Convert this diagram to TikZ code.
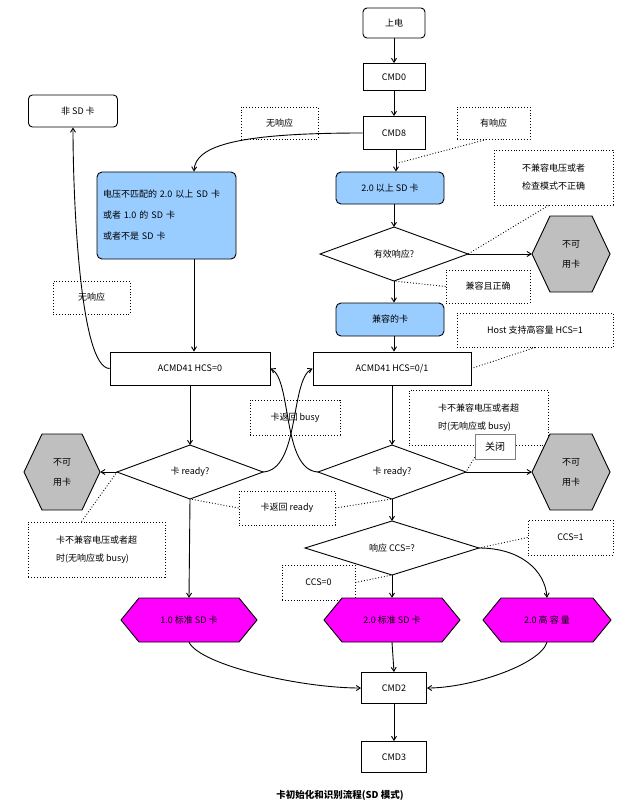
\documentclass[tikz,border=0pt]{standalone}
\usepackage{fontspec}
\setmainfont{Noto Sans CJK SC}
\usetikzlibrary{arrows.meta}
\definecolor{skyb}{HTML}{99CCFF}
\definecolor{mag}{HTML}{FF00FF}
\begin{document}
\begin{tikzpicture}[x=1pt,y=-1pt,font=\fontsize{9}{12}\selectfont,
  box/.style={draw,line width=0.9pt,fill=white,inner sep=0pt},
  blue/.style={draw,line width=0.9pt,fill=skyb,rounded corners=5pt,inner sep=0pt},
  note/.style={draw,dotted,line width=0.9pt,inner sep=0pt,align=left},
  arr/.style={-{Straight Barb[length=4pt,width=5pt]},line width=0.9pt},
  lead/.style={dotted,line width=0.9pt}]
\useasboundingbox (0,0) rectangle (634,811);
\newcommand{\hexa}[8]{%
  \fill[#7,draw=black,line width=0.9pt] (#2-#4,#3) -- (#2-#4+#6,#3-#5) -- (#2+#4-#6,#3-#5) -- (#2+#4,#3) -- (#2+#4-#6,#3+#5) -- (#2-#4+#6,#3+#5) -- cycle;
  \node[minimum width=2*#4 pt,minimum height=2*#5 pt,inner sep=0pt,align=center] (#1) at (#2,#3) {#8};}
\newcommand{\diam}[6]{%
  \fill[white,draw=black,line width=0.9pt] (#2-#4,#3) -- (#2,#3-#5) -- (#2+#4,#3) -- (#2,#3+#5) -- cycle;
  \node[inner sep=0pt] (#1) at (#2,#3) {#6};
  \coordinate (#1W) at (#2-#4,#3); \coordinate (#1E) at (#2+#4,#3);
  \coordinate (#1N) at (#2,#3-#5); \coordinate (#1S) at (#2,#3+#5);}
% boxes
\node[box,rounded corners=4pt,minimum width=62pt,minimum height=30pt] (pwr) at (394,23) {上电};
\node[box,minimum width=62pt,minimum height=27pt] (cmd0) at (394,77) {CMD0};
\node[box,minimum width=62pt,minimum height=33pt] (cmd8) at (394,133) {CMD8};
\node[box,rounded corners=4pt,minimum width=89pt,minimum height=32pt,anchor=west] (nsd) at (28,111) {\hspace{10pt}非 SD 卡\hfill};
\node[note,minimum width=77pt,minimum height=32pt] (nr1) at (279.5,123) {无响应};
\node[note,minimum width=73pt,minimum height=32pt] (yr) at (493.5,123) {有响应};
\node[blue,minimum width=139pt,minimum height=87pt,align=left,text width=127pt] (lb) at (166.5,215.5) {电压不匹配的 2.0 以上 SD 卡\\[9pt]或者 1.0 的 SD 卡\\[9pt]或者不是 SD 卡};
\node[blue,minimum width=108pt,minimum height=32pt] (b20) at (390,188) {2.0 以上 SD 卡};
\node[note,minimum width=119pt,minimum height=55pt] (nc1) at (553.5,177.5) {不兼容电压或者\\[6pt]检查模式不正确};
\diam{d1}{394}{254}{74}{27}{有效响应?}
\hexa{h1}{571}{254}{39}{38}{18}{gray!50}{不可\\[8pt]用卡}
\node[note,minimum width=84pt,minimum height=33pt] (cc) at (488,286.5) {兼容且正确};
\node[blue,minimum width=108pt,minimum height=33pt] (comp) at (390,319.5) {兼容的卡};
\node[note,minimum width=156pt,minimum height=34pt] (host) at (535,330) {Host 支持高容量 HCS=1};
\node[box,minimum width=160pt,minimum height=33pt] (a0) at (190,368.5) {ACMD41 HCS=0};
\node[box,minimum width=158pt,minimum height=33pt] (a1) at (392,368.5) {ACMD41 HCS=0/1};
\node[note,minimum width=77pt,minimum height=33pt] (nr2) at (91.5,297.5) {无响应};
\node[note,minimum width=90pt,minimum height=35pt] (busy) at (295,417.5) {卡返回 busy};
\node[note,minimum width=139pt,minimum height=55pt] (nc2) at (478.5,417.5) {卡不兼容电压或者超\\[6pt]时(无响应或 busy)};
\diam{d2}{190}{472}{73}{27}{卡 ready?}
\diam{d3}{392}{472}{74}{27}{卡 ready?}
\node[draw=gray,fill=white,inner sep=0pt,minimum width=40pt,minimum height=25pt,font=\fontsize{10}{12}\selectfont] (close) at (495,446.5) {关闭};
\hexa{h2}{62}{472}{38}{38}{18}{gray!50}{不可\\[8pt]用卡}
\hexa{h3}{571}{472}{39}{38}{18}{gray!50}{不可\\[8pt]用卡}
\node[note,minimum width=96pt,minimum height=34pt] (rdy) at (287,508) {卡返回 ready};
\node[note,minimum width=137pt,minimum height=55pt] (nc3) at (96.5,549.5) {卡不兼容电压或者超\\[6pt]时(无响应或 busy)};
\diam{d4}{392}{548}{87}{27}{响应 CCS=?}
\node[note,minimum width=85pt,minimum height=35pt] (ccs1) at (570.5,537.5) {CCS=1};
\node[note,minimum width=73pt,minimum height=35pt] (ccs0) at (318.5,582.5) {CCS=0};
\hexa{s1}{189}{620}{68}{22}{18}{mag}{1.0 标准 SD 卡}
\hexa{s2}{392}{620}{68}{22}{18}{mag}{2.0 标准 SD 卡}
\hexa{s3}{547}{620}{64}{22}{18}{mag}{2.0 高 容 量}
\node[box,minimum width=65pt,minimum height=31pt] (cmd2) at (394,688) {CMD2};
\node[box,minimum width=65pt,minimum height=31pt] (cmd3) at (394,757) {CMD3};
\node[font=\bfseries\fontsize{9.5}{12}\selectfont] (cap) at (340,795) {卡初始化和识别流程(SD 模式)};
% connectors
\draw[arr] (pwr) -- (cmd0);
\draw[arr] (cmd0) -- (cmd8);
\draw[arr] (cmd8.west) .. controls (240,133) and (195,145) .. (lb.north -| 194,0);
\draw[arr] (cmd8.south -| 396,0) -- (b20.north -| 396,0);
\draw[arr] (b20.south -| d1N) -- (d1N);
\draw[arr] (d1E) -- (h1.west);
\draw[arr] (d1S) -- (comp.north -| d1S);
\draw[arr] (comp.south -| d1S) -- (a1.north -| d1S);
\draw[arr] (lb.south -| 194,0) -- (a0.north -| 194,0);
\draw[arr] (a0.west) .. controls (80,368) and (73,200) .. (nsd.south -| 73,0);
\draw[arr] (a0.south) -- (d2N);
\draw[arr] (a1.south) -- (d3N);
\draw[arr] (d2E) .. controls (300,470) and (290,380) .. (a1.west);
\draw[arr] (d3W) .. controls (282,470) and (292,380) .. (a0.east);
\draw[arr] (d2W) -- (h2.east);
\draw[arr] (d3E) -- (h3.west);
\draw[arr] (d2S) -- (s1.north);
\draw[arr] (d3S) -- (d4N);
\draw[arr] (d4S) -- (s2.north);
\draw[arr] (d4E) .. controls (520,548) and (545,570) .. (s3.north);
\draw[arr] (s1.south) .. controls (200,665) and (300,688) .. (cmd2.west);
\draw[arr] (s3.south) .. controls (540,665) and (470,688) .. (cmd2.east);
\draw[arr] (s2.south) -- (cmd2.north);
\draw[arr] (cmd2) -- (cmd3);
% leaders
\draw[lead] (yr.south west) ++(30,0) -- (398,163);
\draw[lead] (nc1.south) ++(-5,0) -- (d1E);
\draw[lead] (cc.west) -- (d1S);
\draw[lead] (host.south) -- (a1.east);
\draw[lead] (rdy.west) -- (d2S);
\draw[lead] (rdy.east) -- (d3S);
\draw[lead] (close.south west) ++(0,-2) -- (d3E);
\draw[lead] (nc3.north) ++(-15,0) -- (d2W);
\draw[lead] (ccs1.west) -- (d4E);
\draw[lead] (ccs0.east) -- (d4S);
\end{tikzpicture}
\end{document}
